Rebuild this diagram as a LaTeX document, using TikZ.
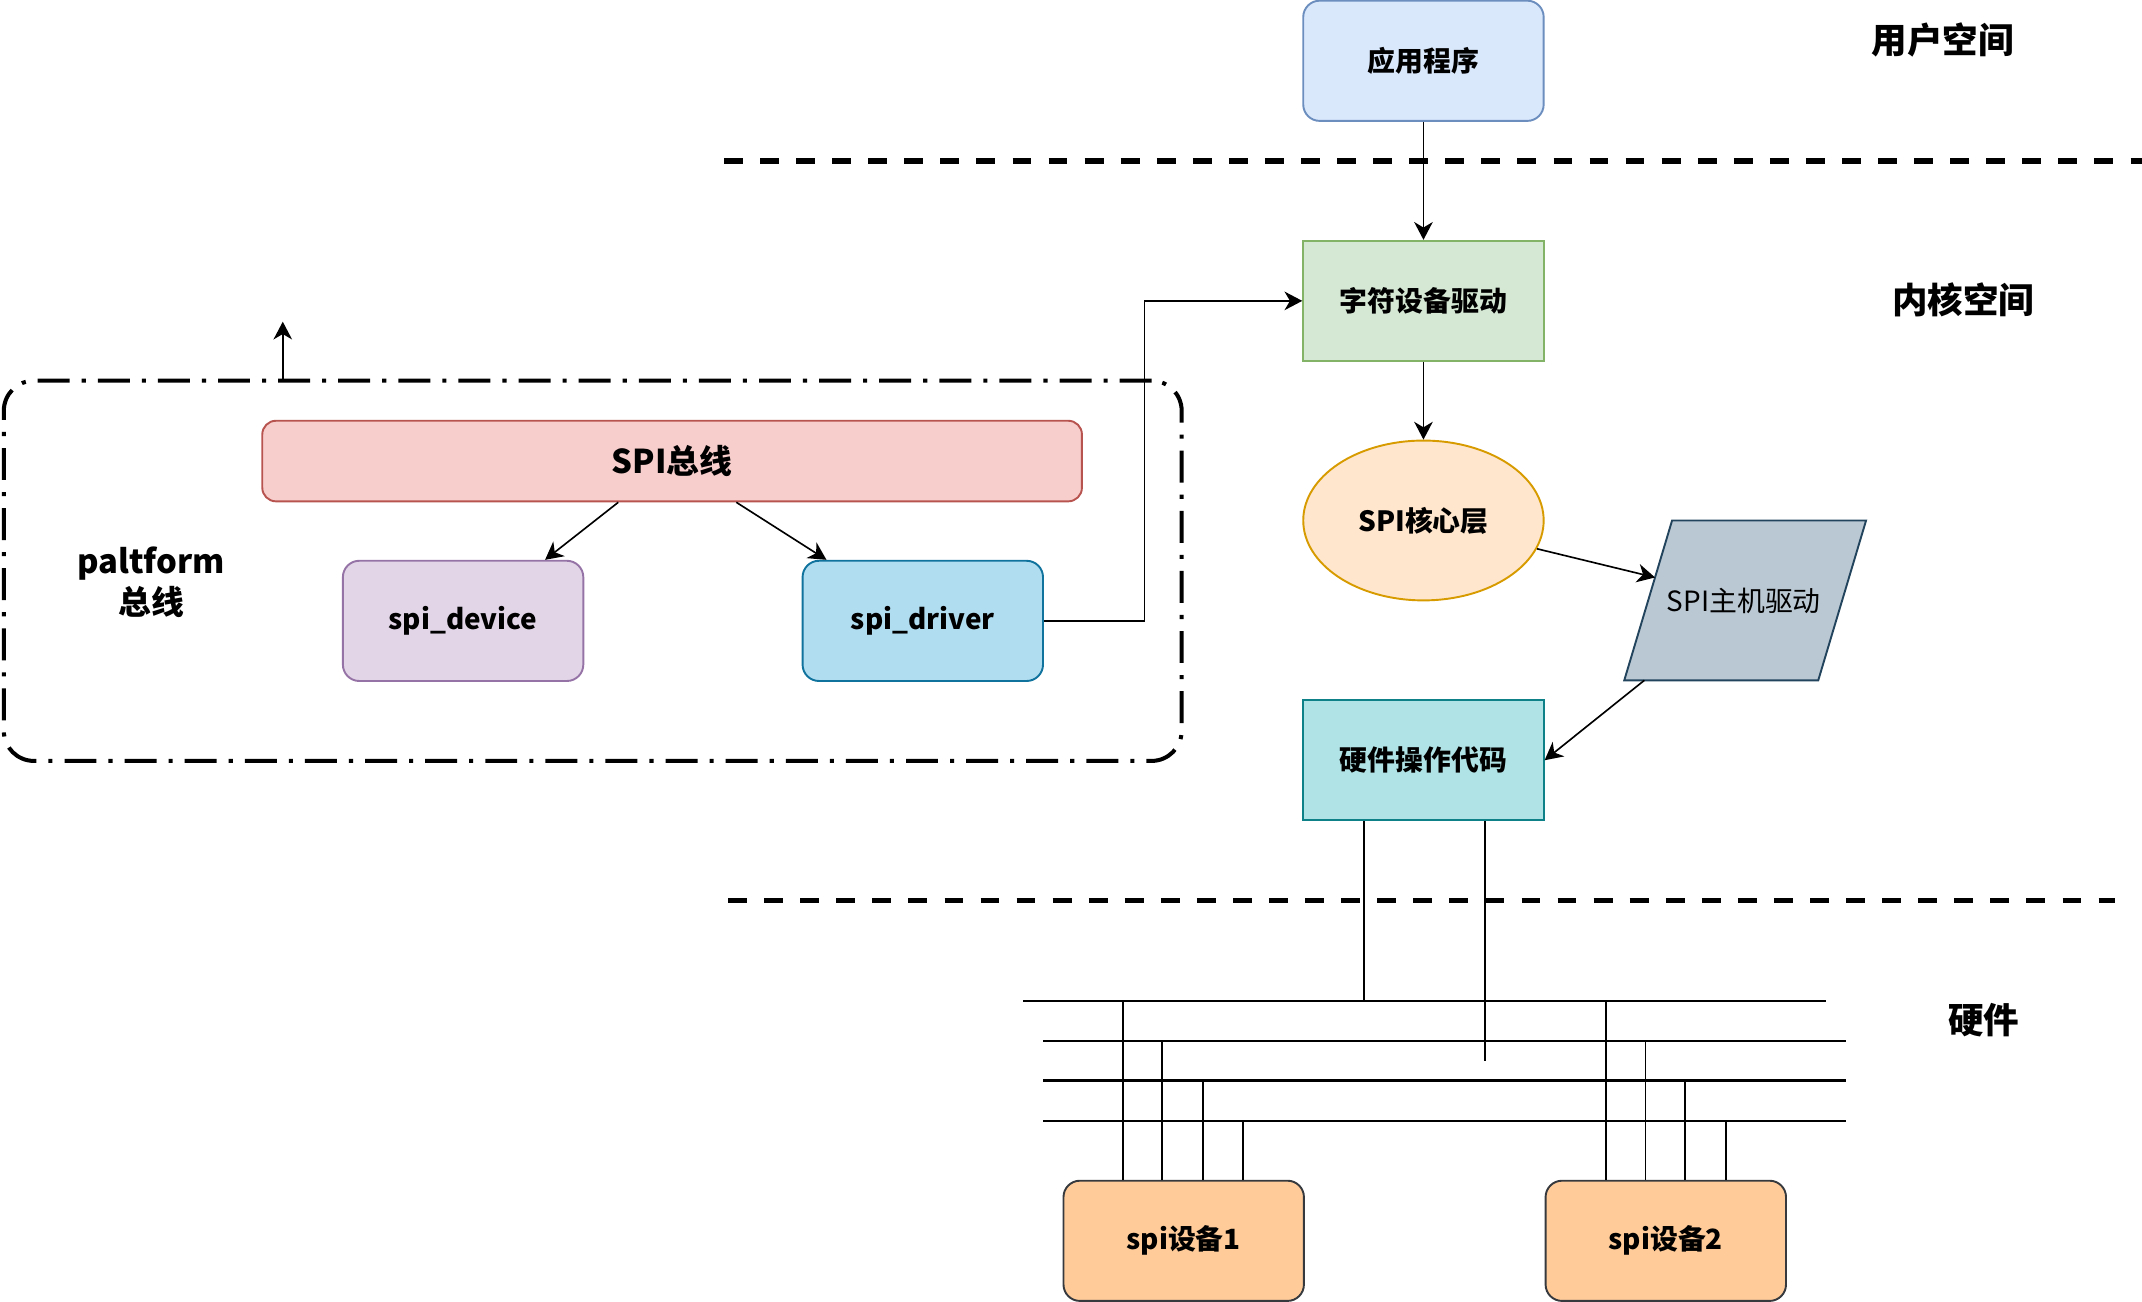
\documentclass[tikz,border=0pt]{standalone}
\usepackage{fontspec}
\setmainfont{Noto Sans CJK SC}
\usetikzlibrary{shapes.geometric,arrows.meta,calc}
\definecolor{appF}{HTML}{DAE8FC}\definecolor{appD}{HTML}{6C8EBF}
\definecolor{chrF}{HTML}{D5E8D4}\definecolor{chrD}{HTML}{82B366}
\definecolor{coreF}{HTML}{FFE6CC}\definecolor{coreD}{HTML}{D79B00}
\definecolor{hostF}{HTML}{BAC8D3}\definecolor{hostD}{HTML}{23445D}
\definecolor{hwF}{HTML}{B0E3E6}\definecolor{hwD}{HTML}{0E8088}
\definecolor{busF}{HTML}{F8CECC}\definecolor{busD}{HTML}{B85450}
\definecolor{devF}{HTML}{E1D5E7}\definecolor{devD}{HTML}{9673A6}
\definecolor{drvF}{HTML}{B1DDF0}\definecolor{drvD}{HTML}{10739E}
\definecolor{sdF}{HTML}{FFCC99}\definecolor{sdD}{HTML}{36393D}
\begin{document}
\begin{tikzpicture}[x=0.5pt,y=-0.5pt,
  box/.style={draw, line width=0.7pt, minimum width=88pt, minimum height=44pt, inner sep=0pt,
    font=\bfseries\fontsize{10.2}{12}\selectfont, align=center},
  rbox/.style={box, rounded corners=6pt},
  arr/.style={-{Stealth[length=6.5pt,width=6.8pt,inset=2pt]}, line width=0.6pt},
  wire/.style={line width=0.6pt},
  busline/.style={line width=0.9pt},
  sep/.style={line width=2pt, dash pattern=on 6.9pt off 6.3pt},
  frame/.style={draw, line width=1.47pt, rounded corners=11pt,
    dash pattern=on 11.7pt off 4.4pt on 1.5pt off 4.4pt, inner sep=0pt},
  region/.style={font=\bfseries\fontsize{13}{15}\selectfont}
]
\useasboundingbox (0,0) rectangle (1568,953);

% separators
\coordinate (d1a) at (530,117.8); \coordinate (d1b) at (1568,117.8);
\coordinate (d2a) at (533,659); \coordinate (d2b) at (1548,659);
\draw[sep] (d1a) -- (d1b);
\draw[sep] (d2a) -- (d2b);

% region labels
\node[region] (lu) at (1422,29.4) {用户空间};
\node[region] (lk) at (1437,219.6) {内核空间};
\node[region] (lh) at (1452,746.8) {硬件};

% right column
\node[rbox, fill=appF, draw=appD] (app) at (1042,44.5) {应用程序};
\node[box, fill=chrF, draw=chrD] (chr) at (1042,220.25) {字符设备驱动};
\node[ellipse, draw=coreD, fill=coreF, line width=0.7pt, minimum width=88pt, minimum height=58.5pt,
  inner sep=0pt, font=\bfseries\fontsize{10.2}{12}\selectfont] (core) at (1042,381) {SPI核心层};
\coordinate (h1) at (1189,498); \coordinate (h2) at (1331,498);
\coordinate (h3) at (1366,381); \coordinate (h4) at (1224,381);
\draw[fill=hostF, draw=hostD, line width=0.7pt] (h1) -- (h2) -- (h3) -- (h4) -- cycle;
\node[font=\fontsize{10.2}{12}\selectfont] (host) at (1276.5,440) {SPI主机驱动};
\coordinate (hostin) at (1211.5,422.7);
\coordinate (hostout) at (1203.7,498);
\node[box, fill=hwF, draw=hwD] (hw) at (1042,556.5) {硬件操作代码};

\draw[arr] (app) -- (chr);
\draw[arr] (chr) -- (core);
\draw[arr] (core.-14) -- (hostin);
\draw[arr] (hostout) -- (hw.east);

% hardware bus
\coordinate (b1l) at (749,732.6); \coordinate (b1r) at (1337,732.6);
\coordinate (b2l) at (763.6,762); \coordinate (b2r) at (1351,762);
\coordinate (b3l) at (763.6,791); \coordinate (b3r) at (1351,791);
\coordinate (b4l) at (763.6,820.4); \coordinate (b4r) at (1351,820.4);
\draw[busline] (b1l) -- (b1r);
\draw[busline] (b2l) -- (b2r);
\draw[busline] (b3l) -- (b3r);
\draw[busline] (b4l) -- (b4r);

\node[rbox, fill=sdF, draw=sdD] (sd1) at (866.5,908.3) {spi设备1};
\node[rbox, fill=sdF, draw=sdD] (sd2) at (1219.4,908.3) {spi设备2};

\foreach \px/\b in {822/b1l, 850.7/b2l, 880.6/b3l, 910/b4l}
  \draw[wire] (\px,0 |- sd1.north) -- (\px,0 |- \b);
\foreach \px/\b in {1175.5/b1l, 1204.4/b2l, 1233.6/b3l, 1263.3/b4l}
  \draw[wire] (\px,0 |- sd2.north) -- (\px,0 |- \b);

\draw[wire] (998.5,0 |- hw.south) -- (998.5,0 |- b1l);
\coordinate (hwend) at (1087,776.5);
\draw[wire] (hwend |- hw.south) -- (hwend);

% platform bus
\node[frame, minimum width=431.1pt, minimum height=139.15pt] (plat) at (433.9,417.85) {};
\node[draw=busD, fill=busF, line width=0.7pt, rounded corners=5pt, minimum width=300pt,
  minimum height=29.5pt, inner sep=0pt, font=\bfseries\fontsize{12}{14}\selectfont] (bus) at (492,337.5) {SPI总线};
\node[rbox, fill=devF, draw=devD] (dev) at (339,454.5) {spi\_device};
\node[rbox, fill=drvF, draw=drvD] (drv) at (675.5,454.5) {spi\_driver};
\node[font=\bfseries\fontsize{12}{15}\selectfont, align=center] (plabel) at (110.6,426) {paltform\\总线};

\draw[arr] ($(bus.south)+(-39.4,0)$) -- ($(dev.north)+(60,0)$);
\draw[arr] ($(bus.south)+(47,0)$) -- ($(drv.north)+(-70.5,0)$);
\draw[arr] (drv.east) -- ++(73.5,0) |- (chr.west);
\coordinate (upend) at (207,235.5);
\draw[arr] (upend |- plat.north) -- (upend);
\end{tikzpicture}
\end{document}
